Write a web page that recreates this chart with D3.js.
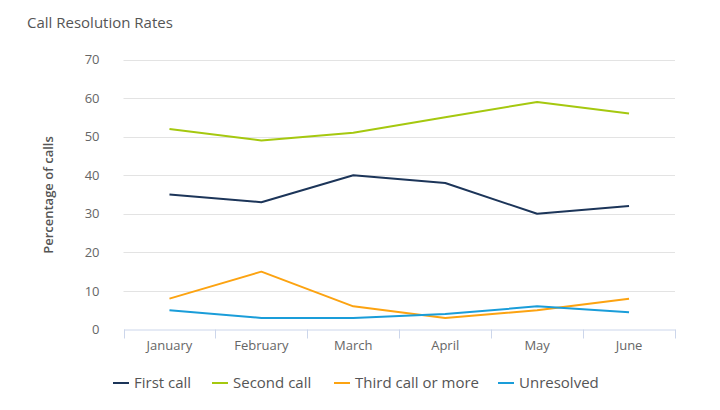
<!DOCTYPE html>
<html lang="en">
<head>
<meta charset="UTF-8">
<title>Call Resolution Rates</title>
<script src="https://d3js.org/d3.v7.min.js"></script>
<style>
  body { margin: 0; background: #fff; font-family: "Open Sans", Lato, sans-serif; }
  .grid line { stroke: #e3e3e3; stroke-width: 1; }
  .tick text { fill: #666; font-size: 13px; font-family: "Open Sans", sans-serif; }
</style>
</head>
<body>
<svg id="chart" width="720" height="410"></svg>
<script>
  // data
  const months = ["January", "February", "March", "April", "May", "June"];
  const firstCall = [35, 33, 40, 38, 30, 32];
  const secondCall = [52, 49, 51, 55, 59, 56];
  const thirdCall = [8, 15, 6, 3, 5, 8];
  const unresolved = [5, 3, 3, 4, 6, 4.5];
  const yTicks = [0, 10, 20, 30, 40, 50, 60, 70];

  const series = [
    { name: "First call", values: firstCall, color: "#1c3559" },
    { name: "Second call", values: secondCall, color: "#a5c80f" },
    { name: "Third call or more", values: thirdCall, color: "#fca311" },
    { name: "Unresolved", values: unresolved, color: "#1a9dd9" }
  ];

  const svg = d3.select("#chart");
  const plotLeft = 123.5, plotRight = 675, plotTop = 59.5, plotBottom = 329.5;

  const x = d3.scaleBand().domain(months).range([plotLeft, plotRight]);
  const y = d3.scaleLinear().domain([0, 70]).range([plotBottom, plotTop]);

  // title
  svg.append("text")
    .attr("x", 27).attr("y", 28)
    .attr("fill", "#555").attr("font-size", "15px")
    .text("Call Resolution Rates");

  // horizontal grid
  svg.append("g").attr("class", "grid")
    .selectAll("line").data(yTicks.filter(d => d > 0)).join("line")
    .attr("x1", plotLeft).attr("x2", plotRight)
    .attr("y1", d => Math.round(y(d)) + 0.5).attr("y2", d => Math.round(y(d)) + 0.5);

  // y axis labels
  const yAxis = svg.append("g")
    .attr("transform", `translate(${plotLeft - 24},0)`)
    .call(d3.axisLeft(y).tickValues(yTicks).tickSize(0).tickPadding(0));
  yAxis.select(".domain").remove();
  yAxis.selectAll("text").attr("text-anchor", "end").attr("font-size", "14px");

  svg.append("text")
    .attr("transform", "translate(53,195) rotate(-90)")
    .attr("text-anchor", "middle")
    .attr("fill", "#555").attr("font-size", "13px").attr("font-weight", 600)
    .text("Percentage of calls");

  // x axis
  const xAxis = svg.append("g")
    .attr("transform", `translate(0,${plotBottom})`)
    .call(d3.axisBottom(x).tickSize(0).tickPadding(11));
  xAxis.select(".domain").attr("stroke", "#ccd6eb");
  xAxis.selectAll(".tick text").attr("fill", "#666");
  const edges = months.map(m => x(m)).concat([plotRight]);
  xAxis.selectAll(".sep").data(edges).join("line")
    .attr("class", "sep")
    .attr("x1", d => Math.round(d) + 0.5).attr("x2", d => Math.round(d) + 0.5)
    .attr("y1", 0).attr("y2", 9)
    .attr("stroke", "#ccd6eb");

  // lines
  const line = d3.line()
    .x((d, i) => x(months[i]) + x.bandwidth() / 2)
    .y(d => y(d));

  svg.append("g").selectAll("path").data(series).join("path")
    .attr("d", d => line(d.values))
    .attr("fill", "none")
    .attr("stroke", d => d.color)
    .attr("stroke-width", 2)
    .attr("stroke-linejoin", "round");

  // legend
  const legendX = [113, 212, 334, 498];
  const lg = svg.append("g").selectAll("g").data(series).join("g")
    .attr("transform", (d, i) => `translate(${legendX[i]},383)`);
  lg.append("line")
    .attr("x1", 0).attr("x2", 16)
    .attr("stroke", d => d.color).attr("stroke-width", 2);
  lg.append("text")
    .attr("x", 21).attr("y", 5)
    .attr("fill", "#555").attr("font-size", "15px")
    .text(d => d.name);
</script>
</body>
</html>
